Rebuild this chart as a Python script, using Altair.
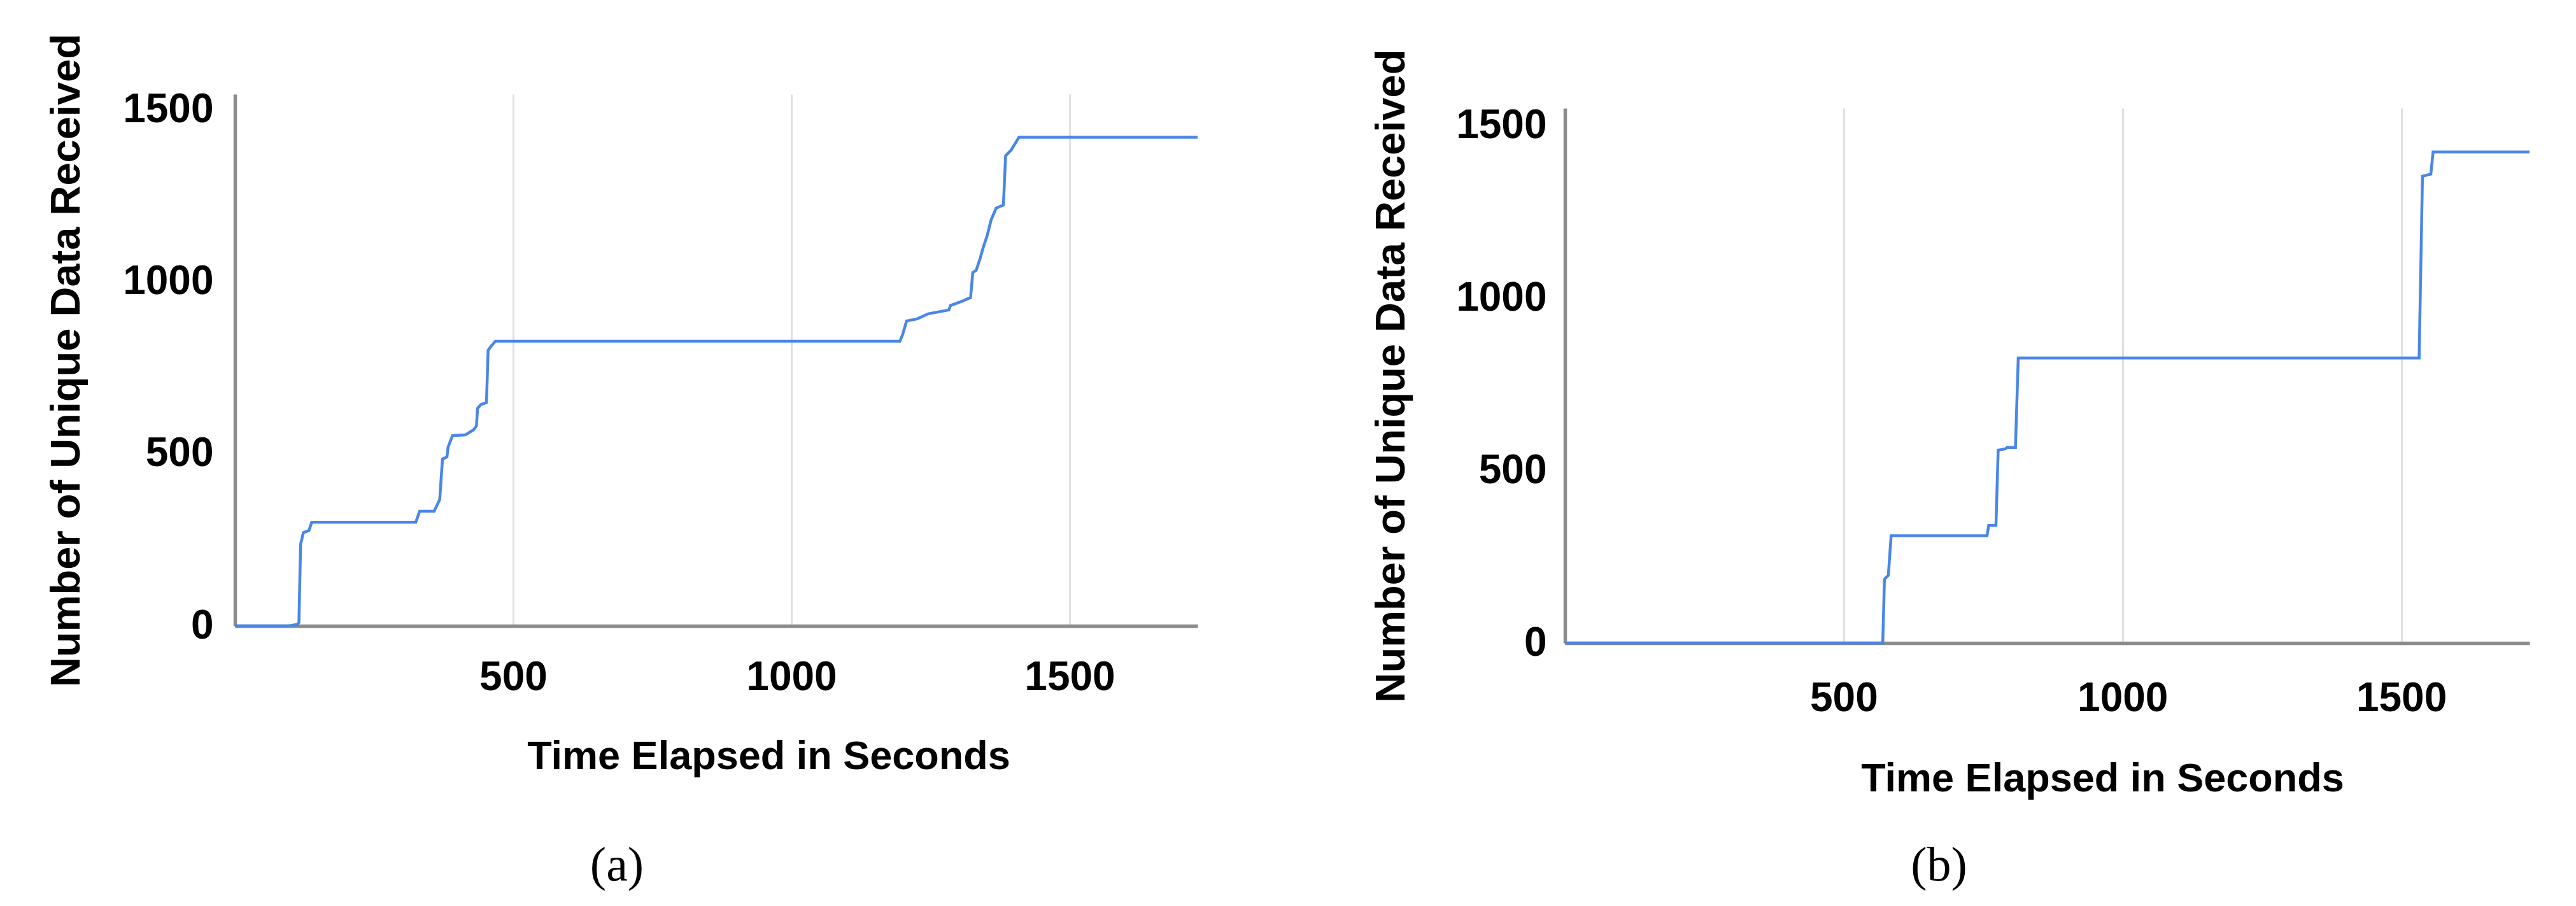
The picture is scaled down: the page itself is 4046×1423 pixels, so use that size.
import altair as alt
import pandas as pd

# ---- data ----
t_a = [0, 97, 112, 115, 118, 123, 133, 138, 325, 332, 358, 368, 373, 381, 383, 391, 414, 429,
       434, 436, 442, 452, 455, 460, 468, 1195, 1200, 1207, 1226, 1246, 1283, 1286, 1306, 1322,
       1326, 1332, 1339, 1345, 1352, 1359, 1368, 1381, 1385, 1395, 1409, 1730]
n_a = [0, 0, 4, 10, 237, 271, 277, 301, 301, 333, 333, 367, 485, 491, 519, 553, 555, 570,
       581, 632, 643, 649, 801, 812, 827, 827, 847, 886, 892, 907, 918, 931, 943, 954,
       1027, 1033, 1067, 1101, 1135, 1180, 1214, 1223, 1366, 1383, 1420, 1420]

t_b = [0, 570, 573, 580, 585, 757, 760, 773, 777, 790, 793, 808, 813, 1532, 1538, 1553, 1557, 1730]
n_b = [0, 0, 185, 196, 311, 311, 341, 341, 559, 563, 567, 567, 826, 826, 1353, 1359, 1423, 1423]

x_ticks = [500, 1000, 1500]
y_ticks = [0, 500, 1000, 1500]
x_title = "Time Elapsed in Seconds"
y_title = "Number of Unique Data Received"
captions = ["(a)", "(b)"]

LINE_COLOR = "#4a86e8"


def panel(t, n, caption, width, height, ymax, lpx, tpx, lpy, tpy, cap_off, cap_dx, title_x):
    df = pd.DataFrame({"t": t, "n": n})
    return (
        alt.Chart(
            df,
            title=alt.TitleParams(
                caption, orient="bottom", anchor="middle", frame="group",
                font="Liberation Serif", fontSize=76, fontWeight="normal", color="black",
                offset=cap_off, dx=cap_dx,
            ),
        )
        .mark_line(color=LINE_COLOR, strokeWidth=4.5)
        .encode(
            x=alt.X(
                "t:Q",
                scale=alt.Scale(domain=[0, 1730], nice=False, zero=True),
                axis=alt.Axis(values=x_ticks, format="d", title=x_title, grid=True,
                              labelPadding=lpx, titlePadding=tpx, titleFontSize=63,
                              titleX=title_x),
            ),
            y=alt.Y(
                "n:Q",
                scale=alt.Scale(domain=[0, ymax], nice=False),
                axis=alt.Axis(values=y_ticks, format="d", title=y_title, grid=False,
                              labelPadding=lpy, titlePadding=tpy, titleFontSize=65),
            ),
        )
        .properties(width=width, height=height)
    )


a = panel(t_a, n_a, captions[0], 1512, 835, 1545, 49, 61, 34, 54, 103, -156, 838)
b = panel(t_b, n_b, captions[1], 1515, 840, 1550, 55, 63, 29, 67, 68, -170, 844)

spacer = (
    alt.Chart(pd.DataFrame({"s": [0]}))
    .mark_point(opacity=0)
    .encode(x=alt.X("s:Q", axis=None), y=alt.Y("s:Q", axis=None))
    .properties(width=1, height=2)
)

col_b = alt.vconcat(spacer, b, spacing=20, bounds="flush")

chart = (
    alt.hconcat(a, col_b, spacing=577, bounds="flush")
    .resolve_scale(x="independent", y="independent")
    .properties(padding={"left": 64, "top": 44, "right": 10, "bottom": 10},
                background="white")
    .configure_view(stroke=None)
    .configure_axis(
        domainColor="#8c8c8c", domainWidth=5.5, ticks=False,
        labelFont="Liberation Sans", labelFontWeight="bold", labelFontSize=64, labelColor="black",
        titleFont="Liberation Sans", titleFontWeight="bold", titleColor="black",
        gridColor="#e0e0e0", gridWidth=3, labelFlush=False,
    )
)

chart.save("out.html", embed_options={"renderer": "svg", "actions": False})
